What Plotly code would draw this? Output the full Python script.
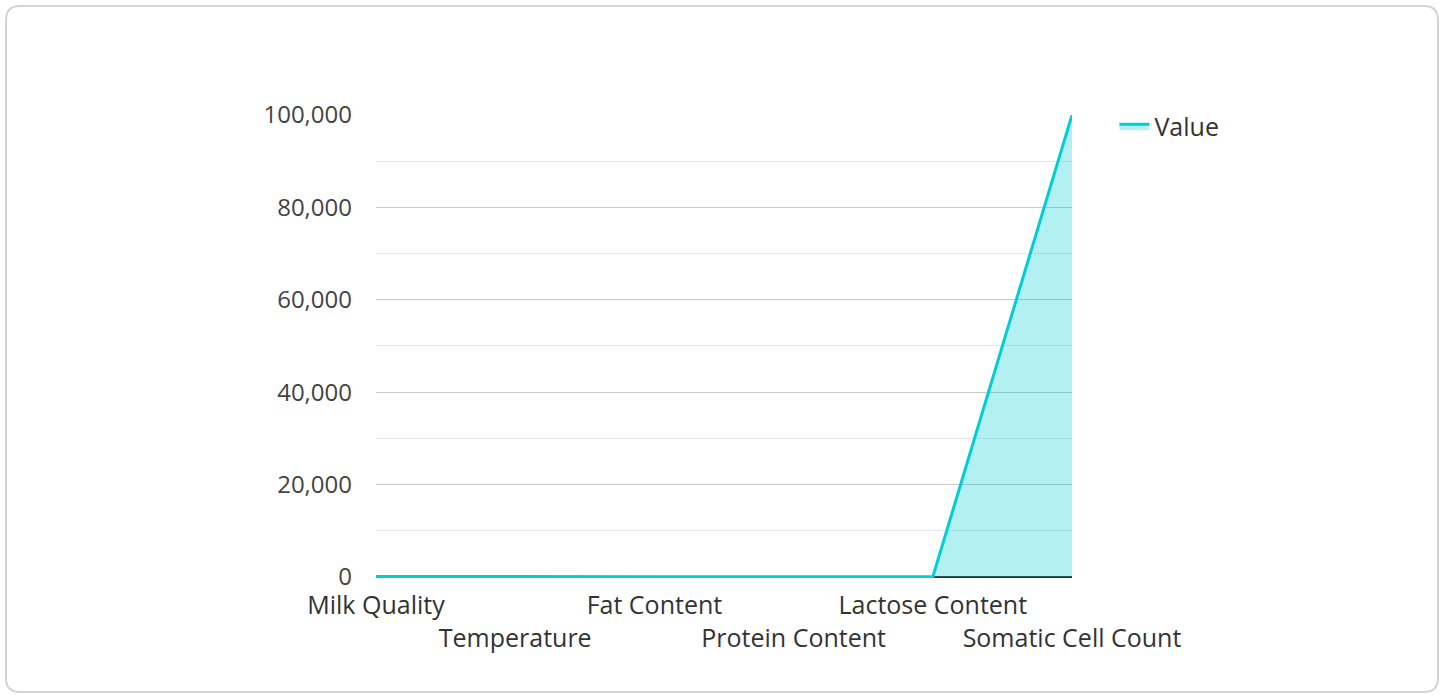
import plotly.graph_objects as go

categories = ["Milk Quality", "Temperature", "Fat Content", "Protein Content",
              "Lactose Content", "Somatic Cell Count"]
values = [95, 4, 3.8, 3.3, 4.8, 100000]
y_ticks = [0, 20000, 40000, 60000, 80000, 100000]

W, H = 1445, 695
ML, MR, MT, MB = 376, 373, 115, 117
PW, PH = W - ML - MR, H - MT - MB

def px(x):
    return (x - ML) / PW

def py(y):
    return (H - MB - y) / PH

# alternate tick labels on two rows
ticktext = [c if i % 2 == 0 else "<br>" + c for i, c in enumerate(categories)]

fig = go.Figure()
fig.add_trace(go.Scatter(
    x=categories, y=values, name="Value", mode="lines",
    line=dict(color="#00CED1", width=3),
    fill="tozeroy", fillcolor="rgba(0,206,209,0.3)",
))

# card border (rounded rectangle)
x0, x1, y0, y1, r = 6, 1438, 6, 692, 14
path = (f"M {px(x0+r)},{py(y0)} L {px(x1-r)},{py(y0)} Q {px(x1)},{py(y0)} {px(x1)},{py(y0+r)} "
        f"L {px(x1)},{py(y1-r)} Q {px(x1)},{py(y1)} {px(x1-r)},{py(y1)} "
        f"L {px(x0+r)},{py(y1)} Q {px(x0)},{py(y1)} {px(x0)},{py(y1-r)} "
        f"L {px(x0)},{py(y0+r)} Q {px(x0)},{py(y0)} {px(x0+r)},{py(y0)} Z")
fig.add_shape(type="path", path=path, xref="paper", yref="paper",
              line=dict(color="#d4d4d4", width=2), layer="below")

fig.update_layout(
    width=W, height=H,
    margin=dict(l=ML, r=MR, t=MT, b=MB),
    paper_bgcolor="white", plot_bgcolor="white",
    font=dict(family="Open Sans", size=24, color="#333333"),
    showlegend=True,
    legend=dict(x=1.061, y=1.025, xanchor="left", yanchor="top",
                font=dict(size=25, color="#333333"), bgcolor="rgba(0,0,0,0)"),
    xaxis=dict(
        type="category", range=[0, len(categories) - 1],
        tickmode="array", tickvals=categories, ticktext=ticktext,
        showgrid=False, showline=False,
        ticks="", ticklabelstandoff=10, tickangle=0,
        tickfont=dict(size=25, color="#333333"),
    ),
    yaxis=dict(
        range=[-250, 100000], tickmode="array", tickvals=y_ticks,
        tickformat=",", showgrid=True, gridcolor="#c8c8c8", gridwidth=1,
        minor=dict(dtick=10000, showgrid=True, gridcolor="#e6e6e6", gridwidth=1),
        zeroline=True, zerolinecolor="#333333", zerolinewidth=2,
        showline=False, ticks="", ticklabelstandoff=23,
        layer="below traces",
        tickfont=dict(size=24, color="#444444"),
    ),
)

fig.write_html("out.html", config={"displayModeBar": False},
               post_script="document.body.style.margin='0';document.body.style.overflow='hidden';")
